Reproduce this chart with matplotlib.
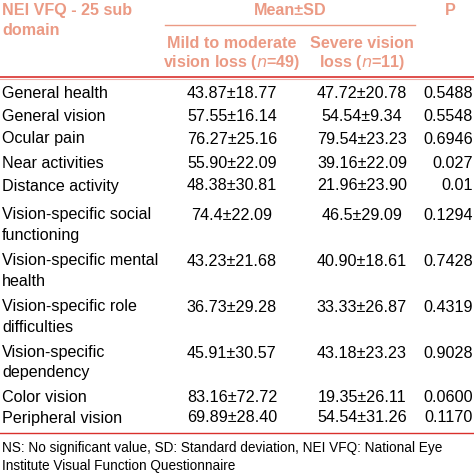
import matplotlib
matplotlib.use("Agg")
import matplotlib.pyplot as plt

labels = ["General health", "General vision", "Ocular pain", "Near activities", "Distance activity",
          "Vision-specific social\nfunctioning", "Vision-specific mental\nhealth", "Vision-specific role\ndifficulties",
          "Vision-specific\ndependency", "Color vision", "Peripheral vision"]
mild = ["43.87±18.77", "57.55±16.14", "76.27±25.16", "55.90±22.09", "48.38±30.81", "74.4±22.09",
        "43.23±21.68", "36.73±29.28", "45.91±30.57", "83.16±72.72", "69.89±28.40"]
severe = ["47.72±20.78", "54.54±9.34", "79.54±23.23", "39.16±22.09", "21.96±23.90", "46.5±29.09",
          "40.90±18.61", "33.33±26.87", "43.18±23.23", "19.35±26.11", "54.54±31.26"]
pvals = ["0.5488", "0.5548", "0.6946", "0.027", "0.01", "0.1294", "0.7428", "0.4319", "0.9028", "0.0600", "0.1170"]
row_y = [93, 116, 139, 163, 186, 215, 261, 307, 353, 397, 418]

W = H = 474
fig = plt.figure(figsize=(4.74, 4.74), dpi=100)
ax = fig.add_axes([0, 0, 1, 1])
ax.set_xlim(0, W); ax.set_ylim(H, 0); ax.axis("off")
plt.rcParams['font.family'] = ['Liberation Sans', 'DejaVu Sans']
hc = "#eb9a84"
red = "#d9302c"
fs = 11.6

ax.text(2, 10, "NEI VFQ - 25 sub", color=hc, fontsize=fs, fontweight="bold", va="center")
ax.text(2, 30, "domain", color=hc, fontsize=fs, fontweight="bold", va="center")
ax.text(290, 10, "Mean±SD", color=hc, fontsize=fs, fontweight="bold", va="center", ha="center")
ax.text(450, 10, "P", color=hc, fontsize=fs, fontweight="bold", va="center", ha="center")
ax.plot([165, 415], [25, 25], color=hc, lw=1)
for x, t1, t2 in [(232, "Mild to moderate", "vision loss ($\\it{n}$=49)"),
                  (362, "Severe vision", "loss ($\\it{n}$=11)")]:
    ax.text(x, 43, t1, color=hc, fontsize=fs, fontweight="bold", va="center", ha="center")
    ax.text(x, 62, t2, color=hc, fontsize=fs, fontweight="bold", va="center", ha="center")
ax.plot([0, W], [77, 77], color=red, lw=1.2)
ax.plot([0, W], [79, 79], color="#f0b0a8", lw=0.8)

for y, l, m, s, p in zip(row_y, labels, mild, severe, pvals):
    for i, part in enumerate(l.split("\n")):
        ax.text(2, y + 20 * i, part, fontsize=fs, va="center", ha="left")
    ax.text(232, y, m, fontsize=fs, va="center", ha="center")
    ax.text(362, y, s, fontsize=fs, va="center", ha="center")
    ax.text(473, y, p, fontsize=fs, va="center", ha="right")

ax.plot([0, W], [433, 433], color=red, lw=1)
ax.text(2, 448, "NS: No significant value, SD: Standard deviation, NEI VFQ: National Eye", fontsize=9.8, va="center")
ax.text(2, 466, "Institute Visual Function Questionnaire", fontsize=9.8, va="center")
fig.savefig("out.png", dpi=100)
